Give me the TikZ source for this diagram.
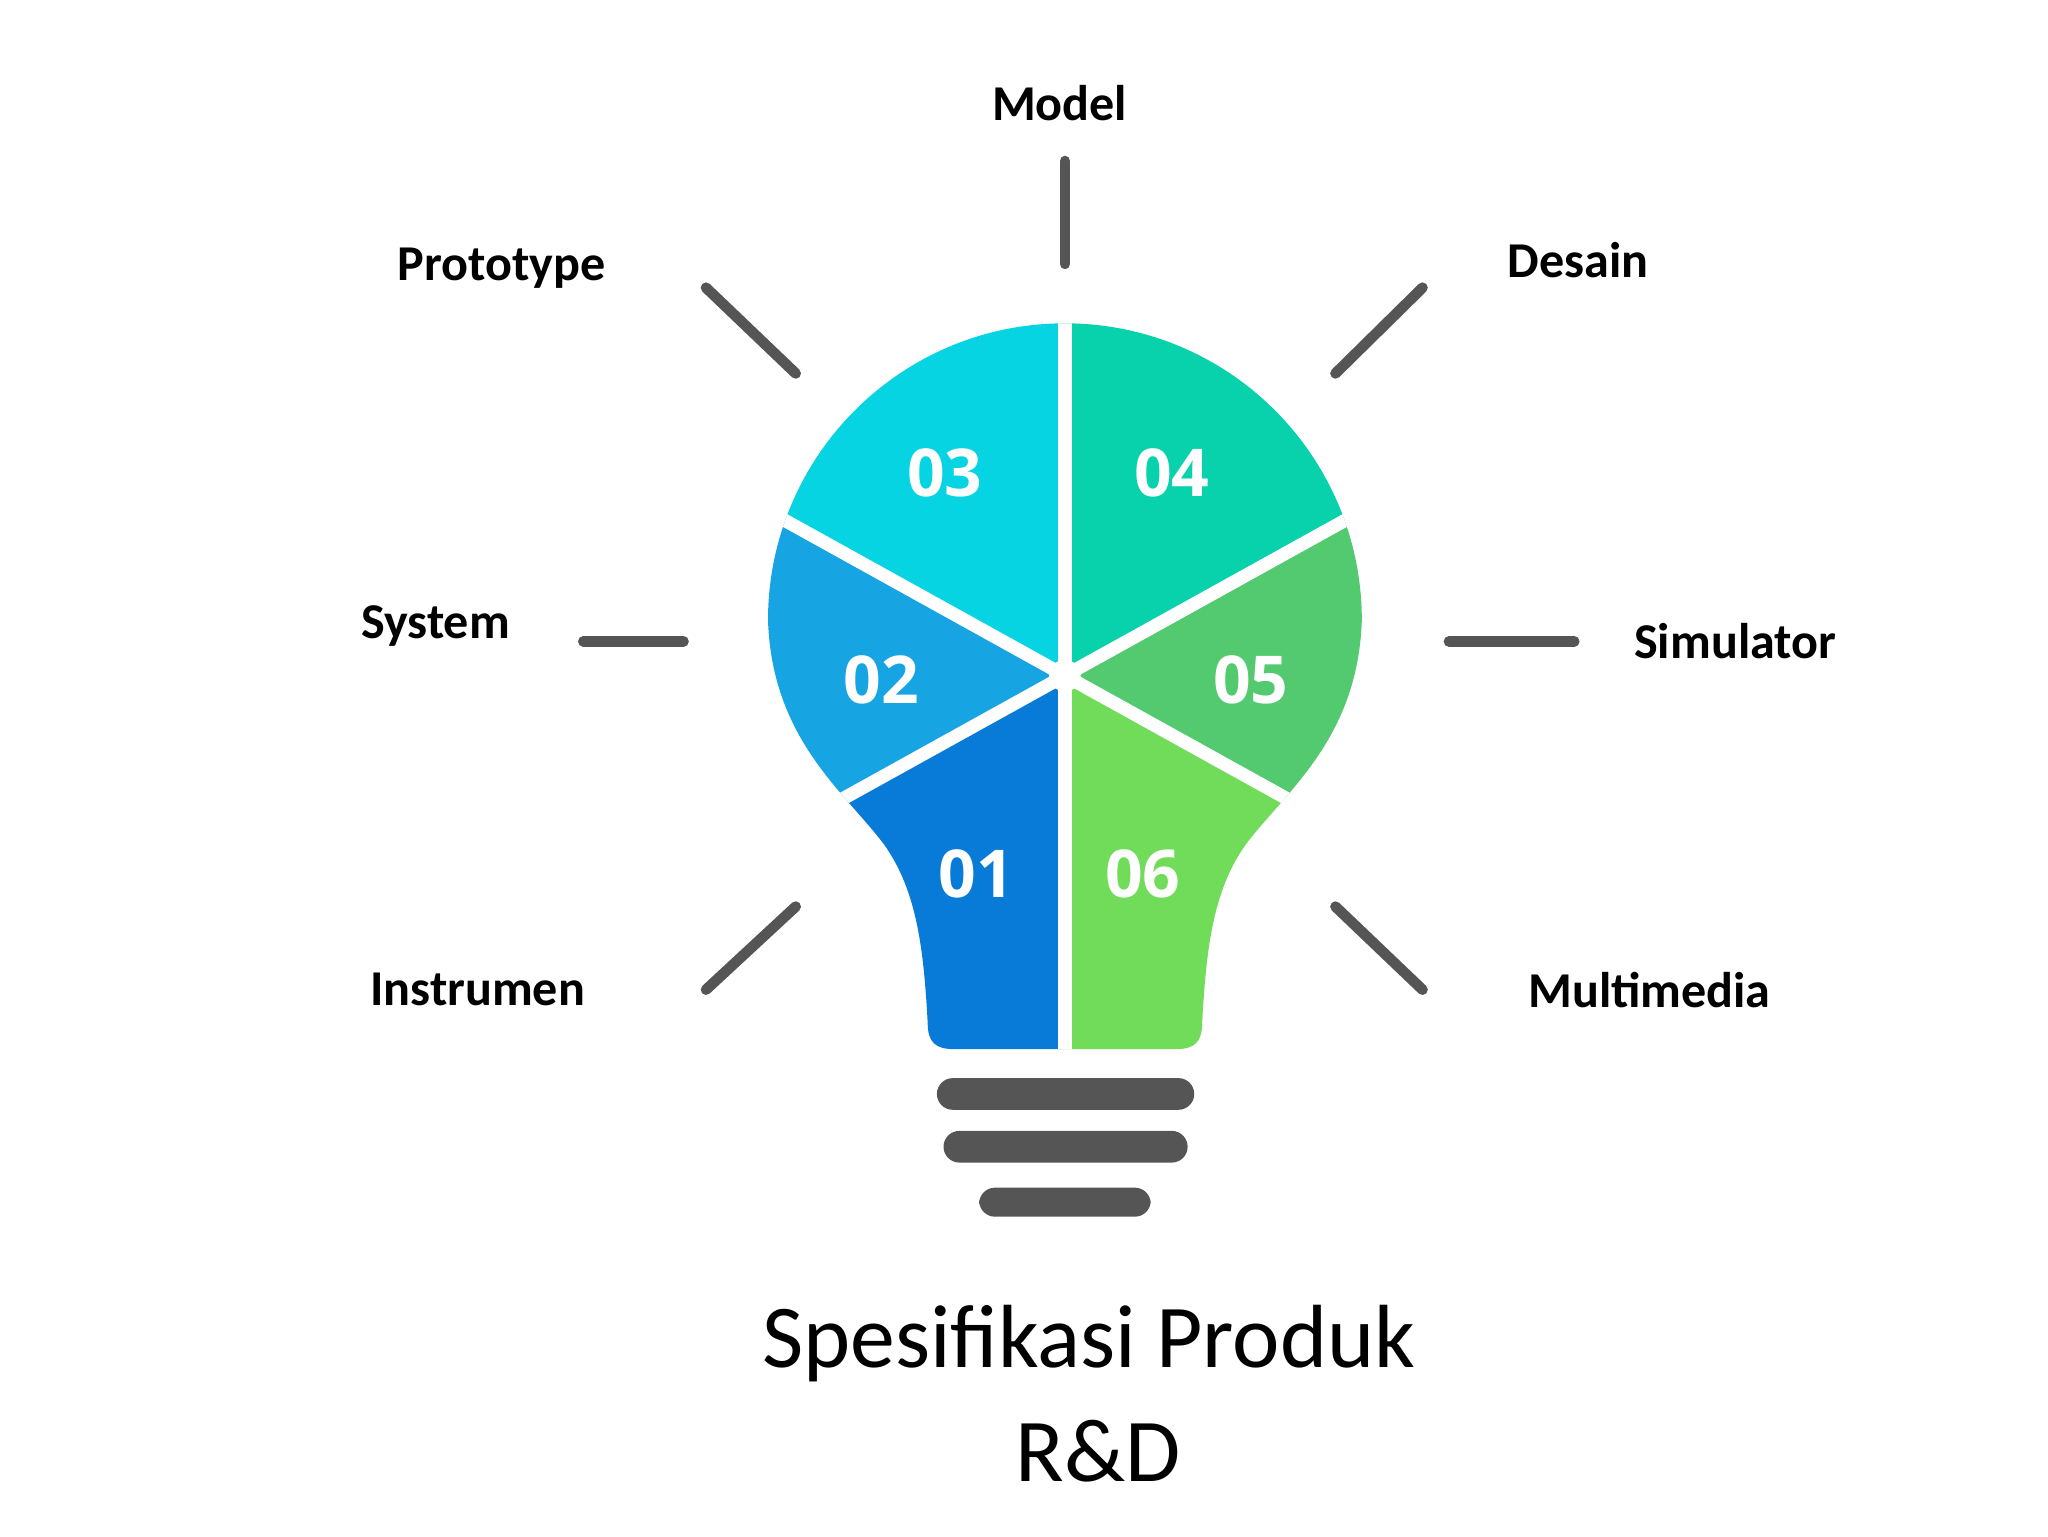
\documentclass[tikz,border=0pt]{standalone}
\usepackage{fontspec}
\setmainfont{Carlito}
\newfontfamily\numfont{Open Sans}
\usetikzlibrary{calc}
\definecolor{cA}{RGB}{8,122,216}
\definecolor{cB}{RGB}{22,164,226}
\definecolor{cC}{RGB}{6,212,226}
\definecolor{cD}{RGB}{8,210,172}
\definecolor{cE}{RGB}{84,202,112}
\definecolor{cF}{RGB}{112,220,90}
\definecolor{ray}{RGB}{85,85,85}
\begin{document}
\begin{tikzpicture}[x=0.5pt,y=0.5pt,
  raystyle/.style={draw=ray,line width=4pt,line cap=round},
  lbl/.style={font=\fontsize{19}{22}\selectfont\bfseries,text=black},
  num/.style={font=\numfont\fontsize{25}{28}\selectfont\bfseries,text=white},
  bar/.style={fill=ray,rounded corners=6pt},
  gap/.style={draw=white,line width=5pt}]
\useasboundingbox (0,0) rectangle (1552,-1164);
\fill[white] (0,0) rectangle (1552,-1164);
\coordinate (c) at (807,-512);
\begin{scope}
\clip (582,-470) arc[start angle=180,end angle=0,radius=112.5pt]
  .. controls (1029,-560) and (974,-600) .. (944,-640)
  .. controls (919,-675) and (914,-720) .. (911,-775)
  .. controls (911,-790) and (905,-795) .. (891,-795) -- (723,-795)
  .. controls (709,-795) and (703,-790) .. (703,-775)
  .. controls (700,-720) and (695,-675) .. (670,-640)
  .. controls (640,-600) and (585,-560) .. (582,-470) -- cycle;
\fill[cC] (c) -- ($(c)+(90:600)$) -- ($(c)+(151:600)$) -- cycle;
\fill[cB] (c) -- ($(c)+(151:600)$) -- ($(c)+(209:600)$) -- cycle;
\fill[cA] (c) -- ($(c)+(209:600)$) -- ($(c)+(270:600)$) -- cycle;
\fill[cF] (c) -- ($(c)+(270:600)$) -- ($(c)+(331:600)$) -- cycle;
\fill[cE] (c) -- ($(c)+(331:600)$) -- ($(c)+(29:600)$) -- cycle;
\fill[cD] (c) -- ($(c)+(29:600)$) -- ($(c)+(90:600)$) -- cycle;
\foreach \a in {90,151,209,270,331,29} \draw[gap] (c) -- ($(c)+(\a:600)$);
\fill[white] (c) circle (6pt);
\end{scope}
\node[num] (n03) at (716,-358) {03};
\node[num] (n04) at (888,-358) {04};
\node[num] (n02) at (668,-515) {02};
\node[num] (n05) at (948,-515) {05};
\node[num] (n01) at (740,-662) {01};
\node[num] (n06) at (866,-662) {06};
\fill[bar] (710,-817) rectangle (905,-841);
\fill[bar] (715,-857) rectangle (900,-881);
\fill[bar] (742,-900) rectangle (872,-922);
\node[lbl] (model) at (803,-78) {Model};
\node[lbl] (proto) at (380,-203) {Prototype};
\node[lbl] (desain) at (1196,-197) {Desain};
\node[lbl] (system) at (330,-474) {System};
\node[lbl] (sim) at (1315,-486) {Simulator};
\node[lbl] (instr) at (362,-750) {Instrumen};
\node[lbl] (multi) at (1250,-750) {Multimedia};
\coordinate (m1) at (807,-122); \coordinate (m2) at (807,-200);
\coordinate (p1) at (535,-218); \coordinate (p2) at (603,-283);
\coordinate (d1) at (1078,-218); \coordinate (d2) at (1012,-283);
\coordinate (s1) at (442,-486); \coordinate (s2) at (518,-486);
\coordinate (t1) at (1098,-486); \coordinate (t2) at (1193,-486);
\coordinate (i1) at (535,-750); \coordinate (i2) at (603,-687);
\coordinate (u1) at (1012,-687); \coordinate (u2) at (1078,-750);
\draw[raystyle] (m1) -- (m2);
\draw[raystyle] (p1) -- (p2);
\draw[raystyle] (d1) -- (d2);
\draw[raystyle] (s1) -- (s2);
\draw[raystyle] (t1) -- (t2);
\draw[raystyle] (i1) -- (i2);
\draw[raystyle] (u1) -- (u2);
\node[font=\fontsize{34}{40}\selectfont] (title) at (825,-1018) {Spesifikasi Produk};
\node[font=\fontsize{34}{40}\selectfont] (rd) at (832,-1100) {R\&D};
\end{tikzpicture}
\end{document}
